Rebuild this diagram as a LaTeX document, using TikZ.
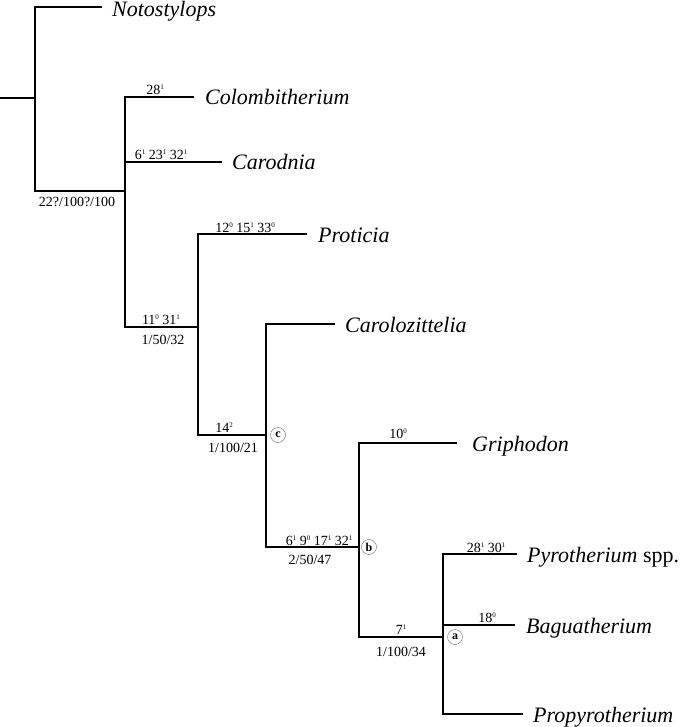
\documentclass[tikz,border=0pt]{standalone}
\usepackage{fontspec}
\setmainfont{Liberation Serif}
\newcommand\supch[2]{#1\raisebox{5pt}{\fontsize{7}{7}\selectfont #2}}
\begin{document}
\begin{tikzpicture}[x=1pt,y=-1pt,
  br/.style={line width=1.5pt},
  thk/.style={line width=2.4pt},
  taxon/.style={anchor=base west,inner sep=0pt,font=\fontsize{22}{24}\selectfont\itshape},
  chlab/.style={anchor=base,inner sep=0pt,font=\fontsize{14}{16}\selectfont},
  circ/.style={circle,draw=gray,line width=0.5pt,inner sep=0pt,minimum size=15pt,fill=white,font=\fontsize{12}{12}\selectfont\bfseries}]
\useasboundingbox (0,0) rectangle (685,727);
% internal nodes
\coordinate (r0) at (0,98);
\coordinate (n1) at (35,98);
\coordinate (n2) at (125,191);
\coordinate (n3) at (198,327);
\coordinate (n4) at (266,435);
\coordinate (n5) at (359,547);
\coordinate (n6) at (443,637);
% tips
\coordinate (tNoto) at (102,7);
\coordinate (tCol) at (194,97);
\coordinate (tCar) at (222,162);
\coordinate (tPro) at (307,234);
\coordinate (tCrl) at (335,324);
\coordinate (tGri) at (457,443);
\coordinate (tPyr) at (517,554);
\coordinate (tBag) at (515,625);
\coordinate (tPpy) at (523,714);
% branches
\draw[br] (r0) -- (n1);
\draw[br] (n1) |- (tNoto);
\draw[br] (n1) |- (n2);
\draw[br] (n2) |- (tCol);
\draw[br] (n2) |- (tCar);
\draw[br] (n2) |- (n3);
\draw[br] (n3) |- (tPro);
\draw[br] (n3) |- (n4);
\draw[br] (n4) |- (tCrl);
\draw[br] (n4) |- (n5);
\draw[thk] (n5) |- (tGri);
\draw[thk] (n5) |- (n6);
\draw[br] (n6) |- (tPyr);
\draw[br] (n6) |- (tBag);
\draw[br] (n6) |- (tPpy);
% taxon names
\node[taxon] (Noto) at (112,16.5) {Notostylops};
\node[taxon] (Col) at (205,105) {Colombitherium};
\node[taxon] (Car) at (232,170) {Carodnia};
\node[taxon] (Pro) at (318,242) {Proticia};
\node[taxon] (Crl) at (345,332) {Carolozittelia};
\node[taxon] (Gri) at (472,451) {Griphodon};
\node[taxon] (Pyr) at (527,562) {Pyrotherium {\upshape spp.}};
\node[taxon] (Bag) at (526,633) {Baguatherium};
\node[taxon] (Ppy) at (533,722) {Propyrotherium};
% character labels
\node[chlab] (l1) at (155,95) {\supch{28}{1}};
\node[chlab] (l2) at (161,160) {\supch{6}{1} \supch{23}{1} \supch{32}{1}};
\node[chlab] (l3) at (77,207) {22?/100?/100};
\node[chlab] (l4) at (245,232) {\supch{12}{0} \supch{15}{1} \supch{33}{0}};
\node[chlab] (l5) at (161,324) {\supch{11}{0} \supch{31}{1}};
\node[chlab] (l6) at (163,344) {1/50/32};
\node[chlab] (l7) at (224,432) {\supch{14}{2}};
\node[chlab] (l8) at (233,452) {1/100/21};
\node[chlab] (l9) at (398,438) {\supch{10}{0}};
\node[chlab] (l10) at (319,545) {\supch{6}{1} \supch{9}{0} \supch{17}{1} \supch{32}{1}};
\node[chlab] (l11) at (310,564) {2/50/47};
\node[chlab] (l12) at (401,634) {\supch{7}{1}};
\node[chlab] (l13) at (401,656) {1/100/34};
\node[chlab] (l14) at (486,552) {\supch{28}{1} \supch{30}{1}};
\node[chlab] (l15) at (487,622) {\supch{18}{0}};
% circled clade letters
\node[circ] (cc) at (278,435) {c};
\node[circ] (cb) at (369,547) {b};
\node[circ] (ca) at (455,637) {a};
\end{tikzpicture}
\end{document}
